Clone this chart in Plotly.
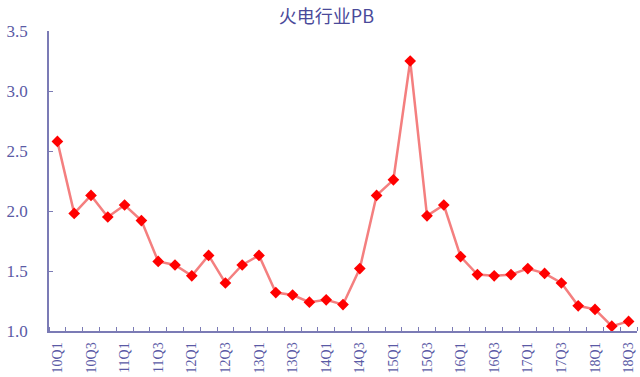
import plotly.graph_objects as go

quarters = ["10Q1","10Q2","10Q3","10Q4","11Q1","11Q2","11Q3","11Q4",
            "12Q1","12Q2","12Q3","12Q4","13Q1","13Q2","13Q3","13Q4",
            "14Q1","14Q2","14Q3","14Q4","15Q1","15Q2","15Q3","15Q4",
            "16Q1","16Q2","16Q3","16Q4","17Q1","17Q2","17Q3","17Q4",
            "18Q1","18Q2","18Q3"]
pb = [2.58,1.98,2.13,1.95,2.05,1.92,1.58,1.55,
      1.46,1.63,1.40,1.55,1.63,1.32,1.30,1.24,
      1.26,1.22,1.52,2.13,2.26,3.25,1.96,2.05,
      1.62,1.47,1.46,1.47,1.52,1.48,1.40,1.21,
      1.18,1.04,1.08]
y_ticks = [1.0,1.5,2.0,2.5,3.0,3.5]

idx = list(range(len(quarters)))
label_idx = idx[::2]
label_txt = [quarters[i] for i in label_idx]

axis_col = "#7b7bb5"
text_col = "#5a5aa5"
font_fam = "Liberation Serif, DejaVu Serif, serif"

fig = go.Figure()
fig.add_trace(go.Scatter(
    x=idx, y=pb, mode="lines+markers",
    line=dict(color="#f47f7f", width=2.5),
    marker=dict(symbol="diamond", size=9, color="#ff0000"),
    showlegend=False,
))

fig.update_layout(
    width=640, height=377,
    margin=dict(l=49, r=3, t=31, b=46),
    paper_bgcolor="white", plot_bgcolor="white",
    title=dict(text="火电行业PB", x=0.51, xanchor="center", y=0.955, yanchor="middle",
               font=dict(family="Noto Sans CJK SC, sans-serif", size=18, color="#4a4a9a")),
    xaxis=dict(
        range=[-0.5, 34.5], showgrid=False, zeroline=False,
        showline=True, linecolor=axis_col, linewidth=1.5,
        tickmode="array", tickvals=label_idx, ticktext=label_txt,
        ticks="", tickangle=-90, ticklabelstandoff=4,
        tickfont=dict(family=font_fam, size=14, color=text_col),
        minor=dict(ticks="inside", ticklen=4, tickcolor=axis_col,
                   tick0=-0.5, dtick=1, showgrid=False),
    ),
    yaxis=dict(
        range=[1.0, 3.5], showgrid=False, zeroline=False,
        showline=True, linecolor=axis_col, linewidth=1.5,
        tickmode="array", tickvals=y_ticks,
        ticktext=[f"{v:.1f}" for v in y_ticks],
        ticks="inside", ticklen=4, tickcolor=axis_col,
        ticklabelstandoff=16,
        tickfont=dict(family=font_fam, size=17, color=text_col),
    ),
)

fig.write_html("out.html")
